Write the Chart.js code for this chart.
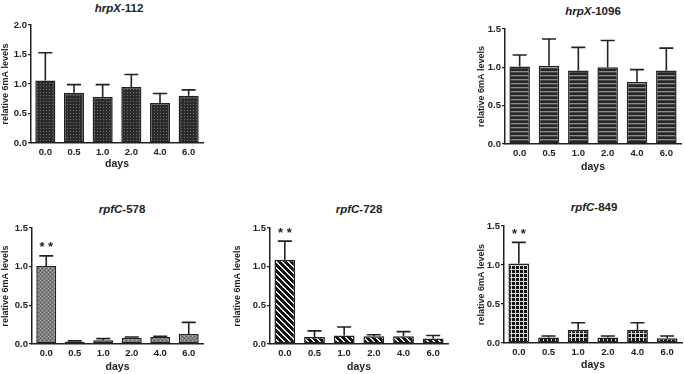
<!DOCTYPE html>
<html>
<head>
<meta charset="utf-8">
<script src="https://cdn.jsdelivr.net/npm/chart.js@4.4.0/dist/chart.umd.min.js"></script>
<style>
  body { margin: 0; background: #fff; width: 685px; height: 374px; position: relative; overflow: hidden; }
  .box { position: absolute; }
  .ttl { position: absolute; transform: translate(-50%, -50%); font: bold 11.5px "Liberation Sans", Arial, sans-serif; color: #222; white-space: nowrap; }
</style>
</head>
<body>
<div class="ttl" style="left:119px;top:8px"><i>hrpX</i>-112</div>
<div class="ttl" style="left:593px;top:11px"><i>hrpX</i>-1096</div>
<div class="ttl" style="left:122px;top:209px"><i>rpfC</i>-578</div>
<div class="ttl" style="left:359px;top:209px"><i>rpfC</i>-728</div>
<div class="ttl" style="left:594px;top:207px"><i>rpfC</i>-849</div>

<script>
// days after treatment
const days = ['0.0', '0.5', '1.0', '2.0', '4.0', '6.0'];

// mean relative 6mA levels and error (upper bar only)
const hrpX112 = [1.06, 0.85, 0.78, 0.95, 0.68, 0.80];
const hrpX112Err = [0.47, 0.14, 0.21, 0.21, 0.16, 0.10];
const hrpX1096 = [1.01, 1.02, 0.96, 1.00, 0.81, 0.96];
const hrpX1096Err = [0.15, 0.35, 0.30, 0.35, 0.16, 0.29];
const rpfC578 = [1.01, 0.03, 0.05, 0.08, 0.09, 0.13];
const rpfC578Err = [0.13, 0.01, 0.02, 0.01, 0.01, 0.15];
const rpfC728 = [1.09, 0.09, 0.11, 0.10, 0.10, 0.07];
const rpfC728Err = [0.24, 0.08, 0.11, 0.02, 0.06, 0.04];
const rpfC849 = [1.02, 0.07, 0.17, 0.07, 0.17, 0.06];
const rpfC849Err = [0.27, 0.02, 0.09, 0.02, 0.09, 0.03];

// significance marks
const stars = ['* *', '', '', '', '', ''];
const noStars = ['', '', '', '', '', ''];

const FONT = '"Liberation Sans", Arial, sans-serif';
const INK = '#222';

// small bitmap fills like the Prism bar patterns
function makePattern(kind) {
  const c = document.createElement('canvas');
  const g = c.getContext('2d');
  if (kind === 'dots') {
    c.width = 3; c.height = 3;
    g.fillStyle = '#2c2c2c'; g.fillRect(0, 0, 3, 3);
    g.fillStyle = '#6e6e6e'; g.fillRect(1, 1, 1, 1);
  } else if (kind === 'hstripe') {
    c.width = 1; c.height = 4;
    g.fillStyle = '#262626'; g.fillRect(0, 0, 1, 4);
    g.fillStyle = '#8c8c8c'; g.fillRect(0, 2, 1, 1);
    g.fillStyle = '#4a4a4a'; g.fillRect(0, 3, 1, 1);
  } else if (kind === 'checker') {
    c.width = 4; c.height = 4;
    g.fillStyle = '#808080'; g.fillRect(0, 0, 4, 4);
    g.fillStyle = '#adadad'; g.fillRect(0, 0, 1, 1); g.fillRect(2, 2, 1, 1);
    g.fillStyle = '#555'; g.fillRect(2, 0, 1, 1); g.fillRect(0, 2, 1, 1);
  } else if (kind === 'diag') {
    c.width = 6; c.height = 6;
    for (let y = 0; y < 6; y++) {
      for (let x = 0; x < 6; x++) {
        g.fillStyle = ((x - y + 12) % 6) < 4 ? '#111' : '#e8e8e8';
        g.fillRect(x, y, 1, 1);
      }
    }
  } else if (kind === 'grid') {
    c.width = 4; c.height = 4;
    g.fillStyle = '#151515'; g.fillRect(0, 0, 4, 4);
    g.fillStyle = '#d8d8d8'; g.fillRect(3, 0, 1, 4); g.fillRect(0, 3, 4, 1);
  }
  return g.createPattern(c, 'repeat');
}

// upper error bars and significance stars
const errorBars = {
  id: 'errorBars',
  afterDatasetsDraw(chart) {
    const ctx = chart.ctx;
    const ds = chart.data.datasets[0];
    const meta = chart.getDatasetMeta(0);
    const y = chart.scales.y;
    ctx.save();
    ctx.strokeStyle = INK;
    ctx.lineWidth = 1.6;
    meta.data.forEach((bar, i) => {
      const top = y.getPixelForValue(ds.data[i] + ds.err[i]);
      ctx.beginPath();
      ctx.moveTo(bar.x, bar.y);
      ctx.lineTo(bar.x, top);
      ctx.moveTo(bar.x - 7, top);
      ctx.lineTo(bar.x + 7, top);
      ctx.stroke();
      if (ds.stars[i]) {
        ctx.fillStyle = INK;
        ctx.font = 'bold 13px ' + FONT;
        ctx.textAlign = 'center';
        ctx.textBaseline = 'middle';
        ctx.fillText(ds.stars[i], bar.x, top - 8);
      }
    });
    ctx.restore();
  }
};

// one panel: area = plot box in page pixels, xT = centre of y title, dY = centre of "days"
function panel(values, err, marks, kind, yMax, area, xT, dY) {
  const left = xT - 6;
  const top = area.t - 12;
  const width = area.r + 8 - left;
  const height = dY + 10 - top;
  const box = document.createElement('div');
  box.className = 'box';
  box.style.cssText = `left:${left}px;top:${top}px;width:${width}px;height:${height}px`;
  const cv = document.createElement('canvas');
  box.appendChild(cv);
  document.body.appendChild(box);

  const yW = area.l - left;
  const xH = dY + 10 - area.b;

  new Chart(cv, {
    type: 'bar',
    data: {
      labels: days,
      datasets: [{
        data: values,
        err: err,
        stars: marks,
        backgroundColor: makePattern(kind),
        borderColor: INK,
        borderWidth: 1.5,
        borderSkipped: false,
        barPercentage: 0.7,
        categoryPercentage: 1
      }]
    },
    options: {
      responsive: true,
      maintainAspectRatio: false,
      animation: false,
      events: [],
      layout: { padding: { top: 12, right: 8, bottom: 0, left: 0 } },
      plugins: { legend: { display: false }, tooltip: { enabled: false } },
      scales: {
        x: {
          offset: true,
          grid: { display: false, drawTicks: false },
          border: { display: true, color: INK, width: 1.5 },
          ticks: { color: INK, font: { family: FONT, size: 9.5, weight: 'bold' }, padding: 4, maxRotation: 0 },
          title: { display: true, text: 'days', color: INK, font: { family: FONT, size: 10.5, weight: 'bold' }, padding: { top: 0, bottom: 4 } },
          afterFit: s => { s.height = xH; }
        },
        y: {
          min: 0,
          max: yMax,
          grid: { display: true, drawOnChartArea: false, drawTicks: true, tickLength: 3, color: INK, lineWidth: 1.2 },
          border: { display: true, color: INK, width: 1.5 },
          ticks: { stepSize: 0.5, color: INK, font: { family: FONT, size: 9.5, weight: 'bold' }, padding: 1, callback: v => v.toFixed(1) },
          title: { display: true, text: 'relative 6mA levels', color: INK, font: { family: FONT, size: 9, weight: 'bold' }, padding: { top: 0, bottom: 0 } },
          afterFit: s => { s.width = yW; }
        }
      }
    },
    plugins: [errorBars]
  });
}

panel(hrpX112, hrpX112Err, noStars, 'dots', 2.0, { l: 31, r: 203, t: 25, b: 143 }, 6, 164);
panel(hrpX1096, hrpX1096Err, noStars, 'hstripe', 1.5, { l: 505, r: 681, t: 29, b: 144 }, 482, 167);
panel(rpfC578, rpfC578Err, stars, 'checker', 1.5, { l: 32, r: 203, t: 228, b: 344 }, 6, 367);
panel(rpfC728, rpfC728Err, stars, 'diag', 1.5, { l: 270, r: 448, t: 228, b: 344 }, 238, 367);
panel(rpfC849, rpfC849Err, stars, 'grid', 1.5, { l: 504, r: 682, t: 226, b: 343 }, 482, 365);
</script>
</body>
</html>
